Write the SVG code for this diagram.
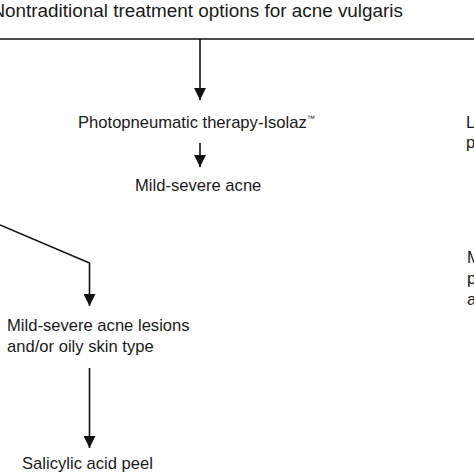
<svg xmlns="http://www.w3.org/2000/svg" width="474" height="474" viewBox="0 0 474 474">
<defs>
<style>
.t{font-family:"Liberation Sans",Arial,sans-serif;font-size:16.6px;fill:#1a1a1a}
.h{font-size:18.9px}
.ln{stroke:#111;stroke-width:1.6;fill:none}
.ah{fill:#111}
</style>
<marker id="arr" viewBox="0 0 12 12" refX="12" refY="6" markerWidth="12" markerHeight="12" markerUnits="userSpaceOnUse" orient="auto">
<path d="M0,0 L12,6 L0,12 Z" class="ah"/>
</marker>
</defs>
<rect width="474" height="474" fill="#fff"/>
<g id="title"><text class="t h" x="403" y="17" text-anchor="end">Nontraditional treatment options for acne vulgaris</text></g>
<g id="connectors">
<line class="ln" x1="0" y1="39" x2="474" y2="39"/>
<line class="ln" x1="200" y1="39" x2="200" y2="100" marker-end="url(#arr)"/>
<line class="ln" x1="200" y1="143" x2="200" y2="167" marker-end="url(#arr)"/>
<polyline class="ln" points="0,225 89.5,263 89.5,306" marker-end="url(#arr)"/>
<line class="ln" x1="89.5" y1="368" x2="89.5" y2="448" marker-end="url(#arr)"/>
</g>
<g id="photopneumatic"><text class="t" x="78" y="128">Photopneumatic therapy-Isolaz<tspan font-size="8" dy="-7">™</tspan></text></g>
<g id="mild-severe"><text class="t" x="135" y="191">Mild-severe acne</text></g>
<g id="lesions"><text class="t" x="7" y="331">Mild-severe acne lesions</text><text class="t" x="7" y="352">and/or oily skin type</text></g>
<g id="salicylic"><text class="t" x="22" y="469">Salicylic acid peel</text></g>
<g id="right-top"><text class="t" x="466" y="128">L</text><text class="t" x="466" y="148">p</text></g>
<g id="right-mid"><text class="t" x="467" y="263">M</text><text class="t" x="467" y="284">p</text><text class="t" x="467" y="305">a</text></g>
</svg>
